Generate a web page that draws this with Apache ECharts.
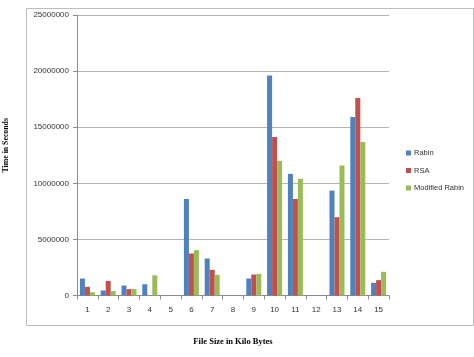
<!DOCTYPE html>
<html>
<head>
<meta charset="utf-8">
<script src="https://cdn.jsdelivr.net/npm/echarts@6/dist/echarts.min.js"></script>
<style>html,body{margin:0;padding:0;background:#fff;}#c{width:474px;height:357px;}</style>
</head>
<body>
<div id="c"></div>
<script>
const categories = ['1','2','3','4','5','6','7','8','9','10','11','12','13','14','15'];
const rabin =         [1510000, 450000, 890000, 1000000, 0, 8600000, 3300000, 0, 1510000, 19600000, 10840000, 0, 9350000, 15900000, 1130000];
const rsa =           [770000, 1300000, 570000, 0, 0, 3740000, 2290000, 0, 1870000, 14130000, 8600000, 0, 6980000, 17600000, 1370000];
const modifiedRabin = [300000, 390000, 570000, 1800000, 0, 4040000, 1840000, 0, 1930000, 12000000, 10400000, 0, 11580000, 13690000, 2110000];
const yTicks = [0, 5000000, 10000000, 15000000, 20000000, 25000000];

const chart = echarts.init(document.getElementById('c'));
const sans = '"Liberation Sans", Arial, sans-serif';
const serif = '"Liberation Serif", "Times New Roman", serif';
const mk = (name, data, color) => ({
  name, type: 'bar', data, barWidth: 5, barGap: '0%',
  itemStyle: { color }
});
chart.setOption({
  animation: false,
  backgroundColor: '#fff',
  graphic: [{
    type: 'rect', left: 24, top: 6, silent: true,
    shape: { width: 447, height: 317 },
    style: { fill: 'none', stroke: '#bdbdbd', lineWidth: 1 }
  }],
  grid: { left: 77, right: 85, top: 15, bottom: 61.5, containLabel: false, outerBoundsMode: 'none' },
  legend: {
    orient: 'vertical', left: 401, top: 144,
    itemWidth: 5, itemHeight: 5, itemGap: 9.5,
    icon: 'rect',
    textStyle: { fontFamily: sans, fontSize: 7.5, color: '#333', padding: [0, 0, 0, -2] },
    data: ['Rabin', 'RSA', 'Modified Rabin']
  },
  xAxis: {
    type: 'category', data: categories,
    name: 'File Size in Kilo Bytes', nameLocation: 'middle', nameGap: 42,
    nameTextStyle: { fontFamily: serif, fontWeight: 'bold', fontSize: 8.5, color: '#000' },
    axisLine: { lineStyle: { color: '#8c8c8c' } },
    axisTick: { show: true, length: 4, lineStyle: { color: '#8c8c8c' } },
    axisLabel: { fontFamily: sans, fontSize: 8, color: '#333', margin: 10 }
  },
  yAxis: {
    type: 'value', min: yTicks[0], max: yTicks[yTicks.length - 1], interval: yTicks[1] - yTicks[0],
    name: 'Time in Seconds', nameLocation: 'middle', nameGap: 67, nameRotate: 90,
    nameTextStyle: { fontFamily: serif, fontWeight: 'bold', fontSize: 7.8, color: '#000', padding: [0, 0, 0, 20] },
    axisLine: { show: true, lineStyle: { color: '#8c8c8c' } },
    axisTick: { show: true, length: 4, lineStyle: { color: '#8c8c8c' } },
    splitLine: { lineStyle: { color: '#b5b5b5' } },
    axisLabel: { fontFamily: sans, fontSize: 8, color: '#333', margin: 8, formatter: v => String(v) }
  },
  series: [
    mk('Rabin', rabin, '#4f81bd'),
    mk('RSA', rsa, '#c0504d'),
    mk('Modified Rabin', modifiedRabin, '#9bbb59')
  ]
});
</script>
</body>
</html>
